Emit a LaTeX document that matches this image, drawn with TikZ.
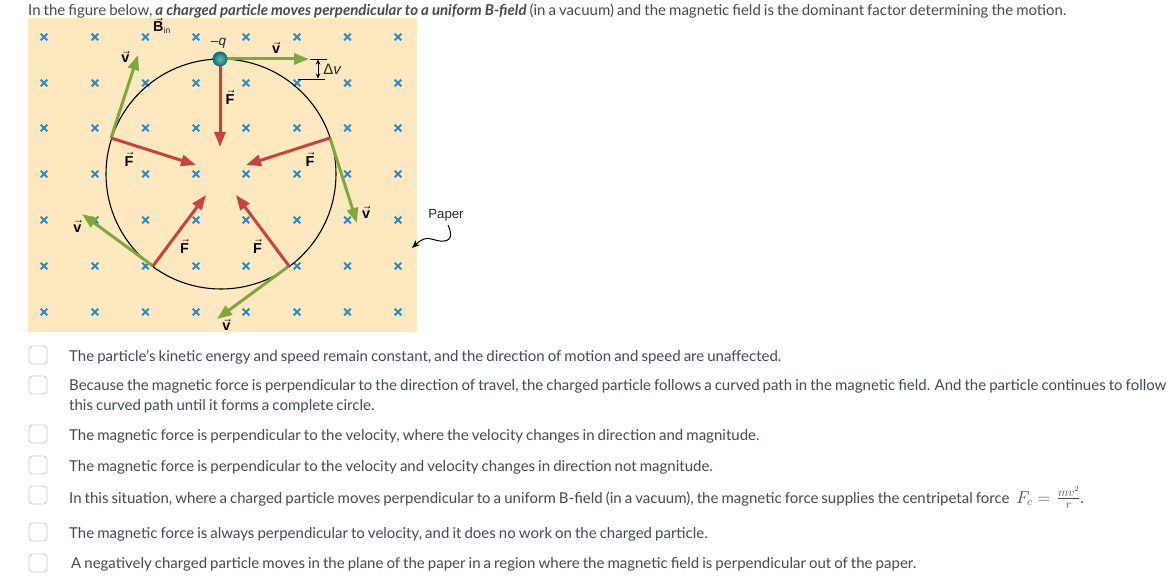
\documentclass[tikz,border=0pt]{standalone}
\usepackage{fontspec}
\setmainfont{Lato}
\newfontfamily\labelfont{Liberation Sans}
\usetikzlibrary{arrows.meta}
\DeclareMathSizes{15}{17.28}{12}{8}
\definecolor{paperbg}{HTML}{FDE8BF}
\definecolor{crossblue}{HTML}{2A8ACB}
\definecolor{vgreen}{HTML}{7FA83C}
\definecolor{fred}{HTML}{C8423F}
\definecolor{bodytext}{HTML}{3F4C54}
\definecolor{boxline}{HTML}{C7CDD1}
\definecolor{ballin}{HTML}{5FC0BC}
\definecolor{ballout}{HTML}{12686F}
\newcommand{\vecF}{$\vec{\mbox{\labelfont\bfseries F}}$}
\newcommand{\vecv}{$\vec{\mbox{\labelfont\bfseries v}}$}
\newcommand{\tightspaces}{\setlength{\spaceskip}{3.05pt}}
\tikzset{
  x=1pt,y=-1pt,
  body/.style={anchor=base west,inner sep=0pt,text=bodytext,font=\fontsize{15}{20}\selectfont,execute at begin node=\tightspaces},
  veclabel/.style={inner sep=0pt,text=black,font=\fontsize{14.4}{14}\selectfont},
  greenarrow/.style={draw=vgreen,line width=3pt,-{Triangle[length=15pt,width=11pt]}},
  redarrow/.style={draw=fred,line width=3pt,-{Triangle[length=15pt,width=11pt]}},
  crossmark/.style={draw=crossblue,line width=2pt},
  checkbox/.style={draw=boxline,line width=0.9pt,rounded corners=3.5pt,fill=white,minimum width=18pt,minimum height=18pt,inner sep=0pt},
  thinline/.style={draw=black,line width=0.6pt},
}
\begin{document}
\begin{tikzpicture}
\useasboundingbox (0,0) rectangle (1174,585);
\fill[white] (0,0) rectangle (1174,585);
\node[body] (intro) at (28,15.5) {In the figure below, \textbf{\textit{a charged particle moves perpendicular to a uniform B-field}} (in a vacuum) and the magnetic field is the dominant factor determining the motion.};
\fill[paperbg] (28,18) rectangle (417,332);
\foreach \cx in {44,95,145.5,196,246,297,347.5,398}
  \foreach \cy in {37,83,128,174,220,266,312}
    \draw[crossmark] (\cx-3.3,\cy-3.3) -- (\cx+3.3,\cy+3.3) (\cx-3.3,\cy+3.3) -- (\cx+3.3,\cy-3.3);
\node[draw=black,line width=1.1pt,circle,minimum size=230pt,inner sep=0pt] (orbit) at (221,174) {};
\coordinate (pA) at (220,59);
\coordinate (pB) at (111,138);
\coordinate (pC) at (330,138);
\coordinate (pD) at (153,266);
\coordinate (pE) at (289,266);
\coordinate (vA) at (309,59);
\coordinate (vB) at (138,55);
\coordinate (vC) at (357,223);
\coordinate (vD) at (82,214);
\coordinate (vE) at (217,319);
\coordinate (fA) at (220,147);
\coordinate (fB) at (196,165);
\coordinate (fC) at (246,165);
\coordinate (fD) at (206,195);
\coordinate (fE) at (236,195);
\draw[greenarrow] (pA) -- (vA);
\draw[greenarrow] (pB) -- (vB);
\draw[greenarrow] (pC) -- (vC);
\draw[greenarrow] (pD) -- (vD);
\draw[greenarrow] (pE) -- (vE);
\draw[redarrow] (pA) -- (fA);
\draw[redarrow] (pB) -- (fB);
\draw[redarrow] (pC) -- (fC);
\draw[redarrow] (pD) -- (fD);
\draw[redarrow] (pE) -- (fE);
\node[circle,minimum size=15pt,inner sep=0pt,inner color=ballin,outer color=ballout] (particle) at (pA) {};
% delta v
\coordinate (dvT1) at (310,59);\coordinate (dvT2) at (327,59);
\coordinate (dvB1) at (298,79);\coordinate (dvB2) at (325,79);
\draw[thinline] (dvT1) -- (dvT2);
\draw[thinline] (dvB1) -- (dvB2);
\coordinate (dvM) at (318,69);
\draw[thinline,-{Stealth[length=5pt,width=4.5pt]}] (dvM) -- (318,59.5);
\draw[thinline,-{Stealth[length=5pt,width=4.5pt]}] (dvM) -- (318,78.5);
\node[inner sep=0pt,text=black!85,font=\labelfont\fontsize{15}{15}\selectfont] (dv) at (332.5,69.5) {Δ\textit{v}};
\node[inner sep=0pt,text=black!85,font=\labelfont\fontsize{13.5}{14}\selectfont] (mq) at (218.5,43) {\textit{–q}};
\node[veclabel,anchor=base west] (bin) at (153,32) {$\vec{\mbox{\labelfont\bfseries B}}$};
\node[inner sep=0pt,anchor=base west,text=black!85,font=\labelfont\fontsize{8.5}{8.5}\selectfont] (binsub) at (163.5,34) {in};
\node[veclabel] (v1) at (276,48) {\vecv};
\node[veclabel] (v2) at (125.5,57) {\vecv};
\node[veclabel] (v3) at (366,212.5) {\vecv};
\node[veclabel] (v4) at (77.5,226.5) {\vecv};
\node[veclabel] (v5) at (226.5,325) {\vecv};
\node[veclabel] (f1) at (230,97.5) {\vecF};
\node[veclabel] (f2) at (129,159.5) {\vecF};
\node[veclabel] (f3) at (310,159.5) {\vecF};
\node[veclabel] (f4) at (184.5,246.5) {\vecF};
\node[veclabel] (f5) at (257.5,246.5) {\vecF};
\node[inner sep=0pt,text=black!85,font=\labelfont\fontsize{13.2}{14}\selectfont] (paper) at (446,215.5) {Paper};
\coordinate (sqS) at (448,225);
\coordinate (sqE) at (412,248);
\draw[draw=black,line width=1pt,-{Stealth[length=8pt,width=6.5pt]}] (sqS) .. controls (453,236) and (451,242) .. (440,241) .. controls (431,240) and (427,234) .. (sqE);
% checkboxes
\foreach \i/\by in {a/355,b/385,c/434,d/465,e/495,f/532,g/563}
  \node[checkbox] (box\i) at (38,\by) {};
\node[body] (t1) at (69,361) {The particle’s kinetic energy and speed remain constant, and the direction of motion and speed are unaffected.};
\node[body] (t2) at (69,390) {Because the magnetic force is perpendicular to the direction of travel, the charged particle follows a curved path in the magnetic field. And the particle continues to follow};
\node[body] (t2b) at (69,410) {this curved path until it forms a complete circle.};
\node[body] (t3) at (69,440) {The magnetic force is perpendicular to the velocity, where the velocity changes in direction and magnitude.};
\node[body] (t4) at (69,471) {The magnetic force is perpendicular to the velocity and velocity changes in direction not magnitude.};
\node[body] (t5) at (69,503) {In this situation, where a charged particle moves perpendicular to a uniform B-field (in a vacuum), the magnetic force supplies the centripetal force \kern4pt$F_c = \kern2pt\frac{mv^2}{r}$.};
\node[body] (t6) at (69,538) {The magnetic force is always perpendicular to velocity, and it does no work on the charged particle.};
\node[body] (t7) at (71,568) {A negatively charged particle moves in the plane of the paper in a region where the magnetic field is perpendicular out of the paper.};
\end{tikzpicture}
\end{document}
